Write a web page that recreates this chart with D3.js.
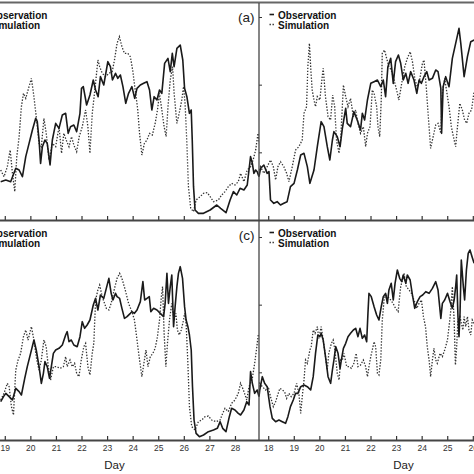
<!DOCTYPE html>
<html>
<head>
<meta charset="utf-8">
<script src="https://cdn.jsdelivr.net/npm/d3@7"></script>
<style>
body { margin: 0; background: #fff; }
svg { display: block; }
text { font-family: "Liberation Sans", Arial, sans-serif; }
</style>
</head>
<body>
<svg id="chart" width="474" height="474"></svg>
<script>
// values: [day, value]
var obsA = [[18.84,11.5],[19.04,12],[19.23,11.5],[19.43,15.5],[19.56,15],[19.69,13],[19.82,19],[19.95,23],[20.08,27],[20.21,30.5],[20.27,29.5],[20.34,24],[20.40,17],[20.47,22],[20.57,24],[20.66,23],[20.77,16.5],[20.86,24],[20.99,29],[21.12,27.5],[21.25,31.5],[21.38,32],[21.48,26],[21.57,28],[21.70,28.5],[21.81,26.5],[21.94,32],[22.00,39.5],[22.07,40],[22.20,34.5],[22.33,37.5],[22.46,42],[22.55,39],[22.65,37],[22.74,43],[22.87,40.5],[23.03,47.5],[23.13,46],[23.21,42],[23.33,44],[23.42,42.5],[23.52,43.5],[23.62,40],[23.73,35],[23.84,38],[23.97,40],[24.08,36.5],[24.17,39.5],[24.30,40.5],[24.43,41],[24.56,41.5],[24.66,39],[24.75,33],[24.84,37],[24.95,36],[25.05,39],[25.14,38],[25.25,47],[25.38,48.5],[25.47,44.5],[25.55,50],[25.62,46],[25.73,51.5],[25.86,52.5],[25.96,48],[26.03,39.5],[26.12,37],[26.22,32],[26.29,33],[26.33,24],[26.38,10],[26.44,3],[26.57,2],[26.77,2],[27.03,3],[27.29,4.5],[27.44,3.5],[27.65,2.2],[27.81,6],[27.94,8.5],[28.07,7.5],[28.20,9.5],[28.35,9],[28.48,10.5],[28.61,19],[28.68,17],[28.74,14],[28.81,15],[28.87,14.5],[28.94,13]];
var simA = [[18.84,15],[18.97,13],[19.10,16],[19.21,21],[19.30,14],[19.39,8.5],[19.47,19],[19.56,25],[19.65,34],[19.73,38],[19.82,36.5],[19.91,39],[20.04,42.5],[20.14,37],[20.23,31],[20.34,23],[20.43,22],[20.53,30.5],[20.62,26],[20.73,18],[20.86,23],[20.99,22],[21.12,28],[21.22,20],[21.31,26],[21.40,24],[21.51,22],[21.61,25],[21.70,22.5],[21.81,20.5],[21.91,25],[22.03,28],[22.16,33],[22.25,28],[22.33,20],[22.42,32],[22.55,41],[22.64,48],[22.71,46],[22.81,44],[22.94,43],[23.07,44],[23.20,44.5],[23.29,48],[23.39,53],[23.48,55],[23.58,52],[23.68,50],[23.81,50],[23.91,49],[24.00,45],[24.10,39],[24.20,33],[24.27,26],[24.36,19.5],[24.46,23],[24.56,24],[24.66,26],[24.77,25.5],[24.88,29],[24.97,33],[25.05,38],[25.14,33],[25.23,28],[25.31,25],[25.38,34],[25.47,42],[25.56,46],[25.62,38],[25.73,29],[25.82,32],[25.92,36],[25.99,40],[26.05,35],[26.12,23],[26.18,10],[26.27,3.5],[26.38,2.5],[26.48,6],[26.64,7],[26.77,8],[26.92,8.2],[27.03,7],[27.16,5.5],[27.35,6],[27.48,7.5],[27.61,8.5],[27.74,10],[27.87,11],[28.00,10.5],[28.13,11.5],[28.22,14],[28.35,11.5],[28.48,15],[28.61,16],[28.71,18],[28.81,21],[28.90,26],[28.95,23]];
var obsB = [[17.64,13],[17.70,15.5],[17.83,16.5],[17.96,14],[18.03,14.5],[18.09,6],[18.22,5],[18.35,5.5],[18.48,4.5],[18.61,5],[18.74,5.5],[18.87,10],[19.01,11],[19.14,15],[19.27,19.5],[19.40,20],[19.53,16],[19.63,11],[19.79,15],[19.92,22],[20.07,29.5],[20.18,28],[20.31,22],[20.41,18],[20.51,24],[20.57,26.5],[20.70,25],[20.81,22],[20.90,27.5],[21.03,33.5],[21.09,29],[21.22,28],[21.35,32.5],[21.48,30],[21.61,27],[21.68,32],[21.77,30],[21.88,36],[22.01,41],[22.14,41.5],[22.27,42],[22.40,40],[22.50,42],[22.59,37],[22.68,46],[22.79,48.5],[22.89,41],[22.98,47.5],[23.09,49.5],[23.18,47],[23.28,42],[23.38,44],[23.47,41],[23.57,44.5],[23.70,42],[23.81,38],[23.90,42],[23.99,41],[24.09,43],[24.20,44.5],[24.29,42],[24.42,42.5],[24.55,45],[24.64,44.5],[24.75,39.5],[24.78,26],[24.84,40],[24.94,43],[25.07,40],[25.20,48.5],[25.33,53],[25.46,57.5],[25.53,53],[25.66,43],[25.79,49],[25.92,53.5],[26.05,54]];
var simB = [[17.64,14],[17.70,16],[17.83,14],[17.96,16],[18.09,18],[18.20,16],[18.29,12],[18.38,16],[18.48,17.5],[18.61,16],[18.72,14],[18.81,11.5],[18.94,16],[19.07,21],[19.20,22],[19.33,24],[19.40,32],[19.50,34],[19.55,46],[19.61,53],[19.66,46],[19.72,39],[19.79,36],[19.85,34],[19.92,37],[20.02,36],[20.07,40],[20.15,45.5],[20.24,37],[20.34,31],[20.44,30],[20.52,37.5],[20.60,34],[20.67,24],[20.77,20],[20.83,24],[20.94,40.5],[21.03,37],[21.12,34],[21.22,36.5],[21.33,31],[21.42,33],[21.51,29],[21.61,26],[21.72,28],[21.81,22],[21.88,26],[21.98,28],[22.07,39],[22.14,38],[22.24,34],[22.29,28],[22.36,25],[22.42,36],[22.46,50],[22.55,51],[22.63,48.5],[22.72,46],[22.81,45],[22.92,42],[23.02,39],[23.11,36],[23.22,41],[23.34,46],[23.44,48.5],[23.55,50.5],[23.64,47.5],[23.74,42],[23.83,40],[23.92,42],[24.03,47],[24.09,48],[24.18,40],[24.26,31],[24.35,21.5],[24.45,25],[24.55,28.5],[24.64,29],[24.75,26],[24.81,38],[24.90,42.5],[24.97,39],[25.07,34],[25.16,28],[25.27,24],[25.33,22],[25.40,28],[25.49,35],[25.59,33],[25.68,30],[25.76,29],[25.85,32],[25.95,33],[26.05,38.5]];
var obsC = [[18.84,11.5],[18.95,13],[19.04,14],[19.17,13],[19.30,12],[19.43,15.5],[19.56,14.5],[19.65,13.5],[19.78,18.5],[19.88,22],[20.01,26],[20.14,30],[20.23,27],[20.34,22],[20.43,17],[20.51,20],[20.57,23.5],[20.66,22],[20.75,18.5],[20.82,22],[20.90,26],[20.99,27],[21.12,27.5],[21.25,28.5],[21.38,31.5],[21.44,32.5],[21.51,29.5],[21.60,30],[21.70,28.5],[21.83,28],[21.94,31],[22.03,35.5],[22.12,33.5],[22.22,34.5],[22.33,36],[22.46,40.5],[22.55,42.5],[22.64,39],[22.74,43.5],[22.87,42.5],[22.97,45.5],[23.07,48.5],[23.16,44],[23.23,42],[23.33,44],[23.39,43],[23.49,42.5],[23.58,39.5],[23.68,36.5],[23.78,37],[23.91,38],[23.97,38.5],[24.07,38],[24.17,39],[24.30,41.5],[24.40,47.5],[24.47,42],[24.56,42.5],[24.65,43],[24.71,38.5],[24.82,39.5],[24.95,39],[25.08,38],[25.21,37],[25.27,41],[25.34,50],[25.40,41],[25.47,46],[25.53,49.5],[25.60,34],[25.66,40],[25.73,46],[25.79,50],[25.86,52],[25.95,48.5],[26.03,40],[26.09,36],[26.16,34],[26.22,31.5],[26.29,27],[26.34,16],[26.40,6],[26.48,2],[26.61,1],[26.77,1.5],[26.96,2.5],[27.16,3],[27.31,3.5],[27.42,5.5],[27.52,3.5],[27.65,2.5],[27.78,7],[27.87,9.5],[28.00,9],[28.13,8],[28.22,7.5],[28.35,9],[28.46,11.5],[28.55,10.5],[28.61,20.5],[28.68,17],[28.77,14],[28.87,15],[28.94,13]];
var simC = [[18.84,12],[18.97,14],[19.10,17],[19.17,16],[19.26,10],[19.34,7.5],[19.43,21],[19.52,24],[19.62,26],[19.73,31],[19.82,33],[19.91,30],[20.04,34],[20.14,30],[20.25,24],[20.34,21],[20.43,24],[20.53,30],[20.62,28],[20.70,22],[20.79,18],[20.90,22],[21.03,22],[21.16,21.5],[21.29,22],[21.38,25],[21.44,22],[21.55,24],[21.64,22],[21.73,23],[21.81,20],[21.90,19],[21.99,24],[22.09,28],[22.16,29],[22.25,22],[22.33,19.5],[22.42,26],[22.48,29],[22.55,42],[22.64,45],[22.71,46.5],[22.81,43],[22.90,41],[22.97,39.5],[23.07,39],[23.16,41],[23.26,44.5],[23.39,48.5],[23.49,50],[23.58,48.5],[23.71,45],[23.84,41],[23.97,38.5],[24.07,36],[24.17,30],[24.27,24],[24.36,19],[24.46,24],[24.52,27],[24.60,22],[24.69,25],[24.79,26],[24.88,27.5],[24.97,31],[25.05,36],[25.12,43],[25.17,46],[25.23,32],[25.30,22],[25.36,29],[25.44,36],[25.53,41],[25.62,36],[25.69,38],[25.75,33],[25.82,31.5],[25.90,33],[25.99,36],[26.03,38],[26.09,35],[26.16,23],[26.22,10],[26.31,4],[26.44,3],[26.57,5.5],[26.70,6],[26.83,7],[26.96,7.2],[27.09,6],[27.26,5.5],[27.42,6],[27.52,8],[27.61,9.5],[27.74,8.5],[27.87,11],[28.00,12],[28.13,14],[28.22,17],[28.33,15],[28.46,12],[28.55,16],[28.68,18.5],[28.77,23],[28.84,27],[28.91,31.5]];
var obsD = [[17.64,13],[17.67,15],[17.77,19],[17.86,17],[17.96,16],[18.07,10],[18.16,6.5],[18.29,5.5],[18.42,6],[18.55,5.5],[18.68,5],[18.77,7],[18.87,10],[18.98,12],[19.07,14],[19.16,14],[19.27,16],[19.40,16.5],[19.53,16],[19.66,15],[19.76,19],[19.85,26],[19.94,31.5],[20.02,31],[20.07,32],[20.15,30],[20.24,25],[20.34,19],[20.44,17],[20.51,21],[20.57,24],[20.64,28],[20.73,26],[20.81,21.5],[20.86,24],[20.94,27.5],[21.03,29],[21.12,31],[21.22,32],[21.33,33],[21.42,33.5],[21.51,31],[21.59,33.5],[21.68,30.5],[21.77,31.5],[21.85,29.5],[21.90,38],[21.94,44],[22.03,43],[22.14,40],[22.24,37.5],[22.33,36],[22.42,40],[22.50,43],[22.59,44],[22.66,41],[22.72,45],[22.81,47],[22.89,42],[22.96,47],[23.05,51],[23.14,48.5],[23.22,47.5],[23.28,49.5],[23.38,47],[23.44,49.5],[23.55,48],[23.64,43.5],[23.73,39.5],[23.83,41.5],[23.94,43],[24.04,43.5],[24.16,44.5],[24.29,44],[24.42,45.5],[24.55,47.5],[24.64,45],[24.75,36.5],[24.81,41],[24.90,42],[25.01,44],[25.11,41.5],[25.20,39.5],[25.27,42],[25.33,46],[25.37,49.5],[25.42,37],[25.46,31],[25.50,38],[25.55,54],[25.63,46],[25.68,42],[25.75,51],[25.82,56],[25.89,57],[25.97,55],[26.05,53]];
var simD = [[17.64,16],[17.67,17],[17.77,16],[17.90,15],[18.00,16],[18.09,13],[18.20,10],[18.29,11.5],[18.39,14],[18.46,15.5],[18.55,15],[18.64,14.5],[18.72,12.5],[18.81,14],[18.90,13],[19.01,14],[19.11,17],[19.20,14],[19.27,8],[19.33,13],[19.40,18],[19.46,24],[19.53,23],[19.63,27],[19.68,28],[19.76,33],[19.83,32],[19.92,34],[19.98,30.5],[20.07,34],[20.15,30],[20.24,25],[20.31,21],[20.37,26],[20.47,29],[20.54,30],[20.61,27],[20.70,20],[20.77,18],[20.83,24],[20.90,24],[20.96,26],[21.07,22],[21.16,22],[21.25,21.5],[21.35,23],[21.44,26],[21.51,22],[21.61,22.5],[21.72,24],[21.81,22],[21.88,19],[21.94,22],[22.01,25],[22.07,27],[22.14,29.5],[22.20,28],[22.27,20],[22.33,19.5],[22.40,24],[22.46,36],[22.53,42],[22.59,43.5],[22.68,43],[22.79,42],[22.88,41],[22.98,39.5],[23.08,38.5],[23.18,46],[23.25,48],[23.31,50],[23.40,46],[23.51,45],[23.60,44],[23.70,42],[23.81,39.5],[23.90,41],[23.99,42],[24.07,37],[24.15,34],[24.22,28],[24.29,24],[24.35,19],[24.42,24],[24.48,27.5],[24.55,24],[24.61,23],[24.72,26],[24.81,25],[24.90,27],[25.01,30],[25.07,34],[25.14,39],[25.20,46],[25.27,36],[25.32,22.5],[25.37,28],[25.42,36],[25.50,37],[25.55,35],[25.61,33],[25.66,37],[25.72,34],[25.79,37],[25.85,33],[25.92,31.5],[25.98,36],[26.05,35]];

var dayDomain = [17.64, 28.94];
var dayTicks = d3.range(18, 29);
var yTicks = [20.3, 40.6, 60.9];
var legendLabels = ["Observation", "Simulation"];
var panelLabels = ["(a)", null, "(c)", null]; // (b) and (d) fall outside the crop

var svg = d3.select("#chart");

// panel geometry (the figure is cropped on both sides)
var cols = [{left: -30, right: 259}, {left: 259, right: 548}];
var rows = [{top: 3, bottom: 220}, {top: 221, bottom: 440}];
var unit = 0.3; // value units per pixel

var panels = [
  {obs: obsA, sim: simA, col: 0, row: 0},
  {obs: obsB, sim: simB, col: 1, row: 0},
  {obs: obsC, sim: simC, col: 0, row: 1},
  {obs: obsD, sim: simD, col: 1, row: 1}
];

panels.forEach(function(p, i) {
  var c = cols[p.col], r = rows[p.row];
  var x = d3.scaleLinear().domain(dayDomain).range([c.left, c.right]);
  var y = d3.scaleLinear().domain([0, (r.bottom - r.top) * unit]).range([r.bottom, r.top]);

  svg.append("clipPath").attr("id", "clip" + i)
    .append("rect")
    .attr("x", c.left).attr("y", r.top)
    .attr("width", c.right - c.left).attr("height", r.bottom - r.top);

  var line = d3.line()
    .x(function(d) { return x(d[0]); })
    .y(function(d) { return y(d[1]); });

  var g = svg.append("g").attr("clip-path", "url(#clip" + i + ")");
  g.append("path").datum(p.sim)
    .attr("d", line)
    .attr("fill", "none")
    .attr("stroke", "#333")
    .attr("stroke-width", 1.3)
    .attr("stroke-dasharray", "1.4,1.6");
  g.append("path").datum(p.obs)
    .attr("d", line)
    .attr("fill", "none")
    .attr("stroke", "#1a1a1a")
    .attr("stroke-width", 1.6)
    .attr("stroke-linejoin", "round");

  // x axis with inward ticks
  var xAxis = d3.axisBottom(x)
    .tickValues(dayTicks)
    .tickSizeInner(-4)
    .tickSizeOuter(0)
    .tickPadding(5);
  if (p.row === 0) xAxis.tickFormat("");
  var ax = svg.append("g")
    .attr("transform", "translate(0," + r.bottom + ")")
    .call(xAxis);
  ax.select(".domain").remove();
  ax.selectAll(".tick line").attr("stroke", "#333").attr("stroke-width", 1.2);
  ax.selectAll(".tick text")
    .attr("fill", "#333")
    .style("font-size", "8.5px")
    .style("font-family", "'Liberation Sans', Arial, sans-serif");

  // y ticks on the left side of the right-hand panels
  if (p.col === 1) {
    var ay = svg.append("g")
      .attr("transform", "translate(" + c.left + ",0)")
      .call(d3.axisRight(y).tickValues(yTicks).tickSize(3).tickFormat(""));
    ay.select(".domain").remove();
    ay.selectAll(".tick line").attr("stroke", "#333").attr("stroke-width", 1);
  }

  // legend
  var lg = svg.append("g").attr("transform", "translate(" + c.left + "," + r.top + ")");
  lg.append("line").attr("x1", 10.5).attr("x2", 15).attr("y1", 11.5).attr("y2", 11.5)
    .attr("stroke", "#1a1a1a").attr("stroke-width", 1.6);
  lg.append("line").attr("x1", 10.5).attr("x2", 15).attr("y1", 21.5).attr("y2", 21.5)
    .attr("stroke", "#333").attr("stroke-width", 1.3).attr("stroke-dasharray", "1.4,1.6");
  lg.selectAll("text.lab").data(legendLabels).enter()
    .append("text").attr("class", "lab")
    .attr("x", 19)
    .attr("y", function(d, k) { return 15.5 + k * 10; })
    .attr("fill", "#111")
    .style("font-size", "10px")
    .style("font-weight", "bold")
    .text(function(d) { return d; });

  if (panelLabels[i]) {
    svg.append("text")
      .attr("x", c.right - 4.5)
      .attr("y", r.top + 18.5)
      .attr("text-anchor", "end")
      .attr("fill", "#222")
      .style("font-size", "13.5px")
      .text(panelLabels[i]);
  }

  if (p.row === 1) {
    svg.append("text")
      .attr("x", (c.left + c.right) / 2)
      .attr("y", 469)
      .attr("text-anchor", "middle")
      .attr("fill", "#222")
      .style("font-size", "11.5px")
      .text("Day");
  }
});

// frame lines
var frame = svg.append("g").attr("stroke", "#444").attr("fill", "none");
frame.append("line").attr("x1", 0).attr("x2", 474).attr("y1", 2.5).attr("y2", 2.5).attr("stroke-width", 2.2).attr("stroke", "#666");
frame.append("line").attr("x1", 0).attr("x2", 474).attr("y1", 220.5).attr("y2", 220.5).attr("stroke-width", 1.8);
frame.append("line").attr("x1", 0).attr("x2", 474).attr("y1", 440.5).attr("y2", 440.5).attr("stroke-width", 1.8);
frame.append("line").attr("x1", 259).attr("x2", 259).attr("y1", 3).attr("y2", 440).attr("stroke-width", 1.3);
</script>
</body>
</html>
